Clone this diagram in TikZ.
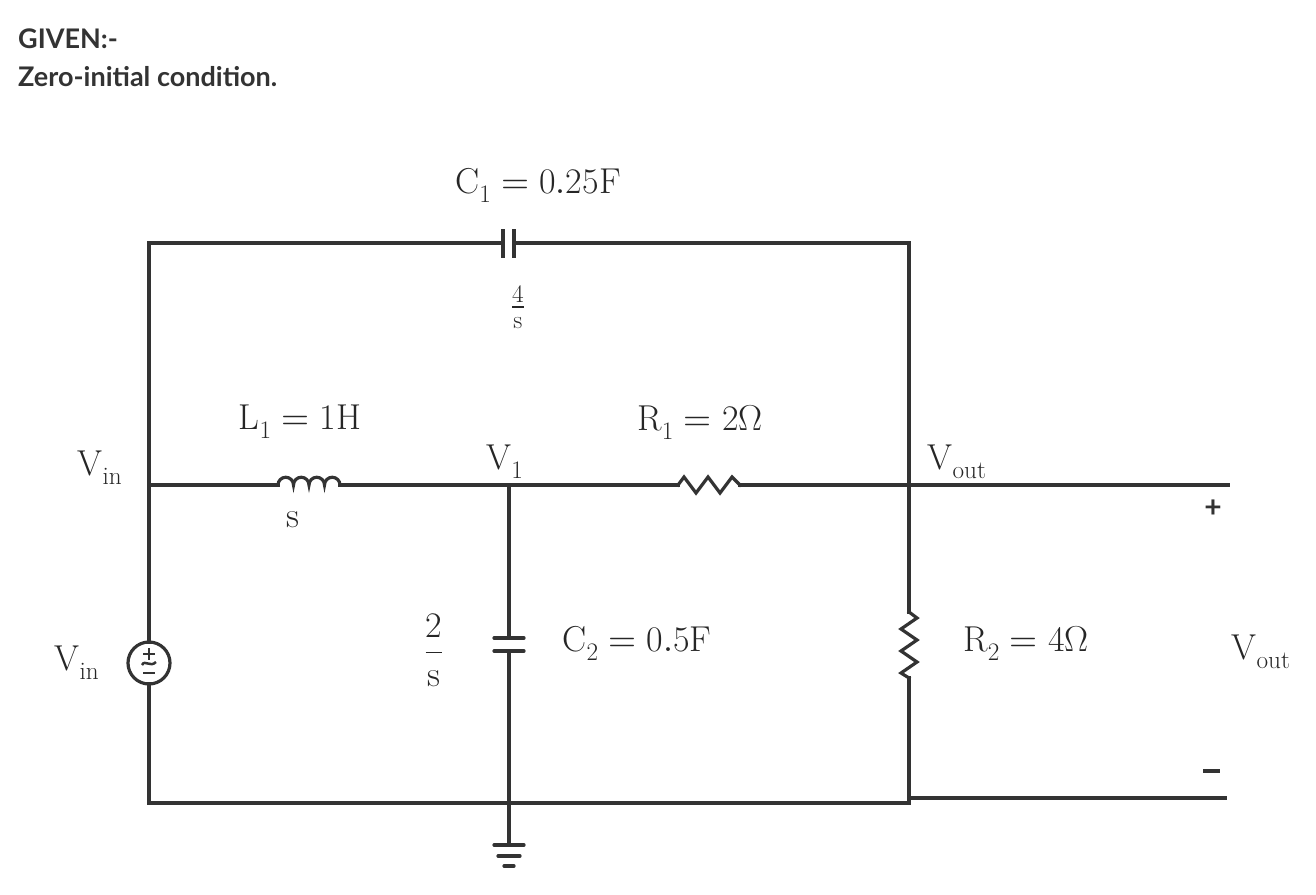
\documentclass[tikz,border=0pt]{standalone}
\usepackage{fontspec}
\usepackage{unicode-math}
\setmathfont{Latin Modern Math}
\newfontfamily\titlefont{Lato}
\begin{document}
\begin{tikzpicture}[x=1pt,y=-1pt,
  wire/.style={line width=3.2pt,color=wc,line cap=rect},
  lbl/.style={inner sep=0pt,font=\fontsize{36}{42}\selectfont,text=black!85}]
\definecolor{wc}{HTML}{333333}
\useasboundingbox (0,0) rectangle (1316,894);
\node[anchor=north west,inner sep=0pt,align=left,font=\titlefont\bfseries\fontsize{27}{38}\selectfont,text=wc] (title) at (18,29) {GIVEN:-\\Zero-initial condition.};
% coordinates
\coordinate (TL) at (149,243); \coordinate (TR) at (909,243);
\coordinate (ML) at (149,485); \coordinate (V1) at (509,485); \coordinate (MR) at (909,485);
\coordinate (BL) at (149,803); \coordinate (BM) at (509,803); \coordinate (BR) at (909,803);
\coordinate (OP) at (1228,485); \coordinate (ON) at (1225,798); \coordinate (BR2) at (909,798);
% top wire with C1
\draw[wire] (TL) -- (502,243); \draw[wire] (515,243) -- (TR);
\draw[wire,line cap=butt] (503,229) -- (503,258); \draw[wire,line cap=butt] (514,229) -- (514,258);
\draw[wire] (TL) -- (ML) -- (278,485);
\draw[wire] (278,485) arc(180:360:7.75) arc(180:360:7.75) arc(180:360:7.75) arc(180:360:7.75);
\draw[wire] (340,485) -- (V1) -- (678,485);
\draw[wire,line join=miter] (678,485) -- (684,477) -- (696,493) -- (708,477) -- (720,493) -- (732,477) -- (740,485);
\draw[wire] (740,485) -- (MR) -- (OP);
\draw[wire] (TR) -- (MR) -- (909,612);
\draw[wire,line join=miter] (909,612) -- (917,618) -- (901,629) -- (917,640) -- (901,651) -- (917,662) -- (901,673) -- (909,678);
\draw[wire] (909,678) -- (BR);
\draw[wire] (BR2) -- (ON);
% C2
\draw[wire] (V1) -- (509,638); \draw[wire] (509,651) -- (BM);
\draw[wire,line cap=round] (494,638) -- (524,638); \draw[wire,line cap=round] (494,651) -- (524,651);
% bottom
\draw[wire] (BL) -- (BR);
\draw[wire] (BM) -- (509,845);
\draw[wire,line cap=round] (494,845) -- (524,845);
\draw[wire,line cap=round] (498,856) -- (520,856);
\draw[wire,line cap=round] (504,866) -- (514,866);
% source
\draw[wire] (ML) -- (149,642); \draw[wire] (149,684) -- (BL);
\node[circle,draw=wc,line width=3.2pt,minimum size=42pt,inner sep=0pt] (src) at (149,663) {};
\draw[line width=2.5pt,wc] (143,654) -- (155,654) (149,648) -- (149,660);
\draw[line width=2.5pt,wc] (142,665) .. controls (145,659) and (150,668) .. (156,662);
\draw[line width=2.5pt,wc] (143,673) -- (155,673);
% labels
\node[lbl] (c1) at (538,185) {$\mathrm{C_1 = 0.25F}$};
\node[lbl] (c1i) at (518,307) {$\tfrac{\mathrm{4}}{\mathrm{s}}$};
\node[lbl] (l1) at (300,422) {$\mathrm{L_1 = 1H}$};
\node[lbl] (l1i) at (293,520) {$\mathrm{s}$};
\node[lbl] (v1l) at (505,462) {$\mathrm{V_1}$};
\node[lbl] (r1) at (700,422) {$\mathrm{R_1 = 2Ω}$};
\node[lbl] (vo1) at (957,462) {$\mathrm{V_{out}}$};
\node[lbl] (vin1) at (100,468) {$\mathrm{V_{in}}$};
\node[lbl] (c2i) at (434,650) {$\dfrac{\mathrm{2}}{\mathrm{s}}$};
\node[lbl] (c2) at (637,643) {$\mathrm{C_2 = 0.5F}$};
\node[lbl] (r2) at (1026,643) {$\mathrm{R_2 = 4Ω}$};
\node[lbl] (vo2) at (1261,652) {$\mathrm{V_{out}}$};
\node[lbl] (vin2) at (77,663) {$\mathrm{V_{in}}$};
\node[inner sep=0pt,font=\titlefont\bfseries\fontsize{30}{30}\selectfont,text=wc] (plus) at (1213,509) {+};
\draw[line width=3.5pt,wc] (1203,771) -- (1220,771);
\end{tikzpicture}
\end{document}
